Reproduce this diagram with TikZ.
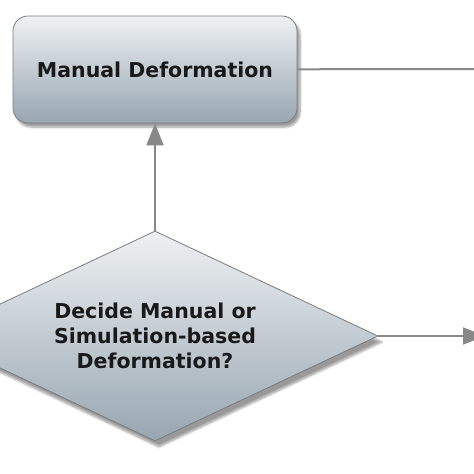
\documentclass[tikz,border=0pt]{standalone}
\usepackage{fontspec}
\setmainfont{DejaVu Sans}
\usepackage{tikz}
\usetikzlibrary{shapes,arrows.meta,positioning,shadows.blur}
\definecolor{boxtop}{RGB}{238, 241, 243}
\definecolor{boxbottom}{RGB}{152, 166, 177}
\definecolor{edgegray}{RGB}{136, 136, 136}
\definecolor{rimgray}{RGB}{120, 124, 128}
\tikzstyle{blocktext} = [text=black!90, font=\bfseries\fontsize{20.5}{25}\selectfont, align=center]
\tikzstyle{process} = [rectangle, rounded corners=15pt, draw=rimgray, line width=0.8pt, top color=boxtop, bottom color=boxbottom, blocktext, minimum width=284pt, minimum height=107pt, blur shadow={shadow xshift=3pt, shadow yshift=-4pt, shadow blur steps=8}]
\tikzstyle{decision} = [diamond, draw=rimgray, line width=0.8pt, top color=boxtop, bottom color=boxbottom, inner sep=0pt, minimum width=446pt, minimum height=210pt, blur shadow={shadow xshift=4pt, shadow yshift=-6pt, shadow blur steps=8}]
\tikzstyle{tedge}  = [draw=edgegray, line width=2pt, -{Triangle[length=22pt, width=17pt]}]
\tikzstyle{tline}  = [draw=edgegray, line width=2pt]

\begin{document}
\begin{tikzpicture}[auto]
\clip (0,0) rectangle (474pt,-474pt);

% blocks =============================
\node[process] (manual) at (155pt,-69.5pt) {Manual Deformation};
\node[decision, label={[blocktext]center:Decide Manual or\\Simulation-based\\Deformation?}] (decide) at (155pt,-336pt) {};

% free ends
\coordinate (outmanual) at (480pt,-69pt);
\coordinate (outdecide) at (485pt,-336pt);

%edges
\path[tedge] (decide) -- (manual);
\path[tline] (manual) -- (outmanual);
\path[tedge] (decide.east) -- (outdecide);

\end{tikzpicture}
\end{document}
